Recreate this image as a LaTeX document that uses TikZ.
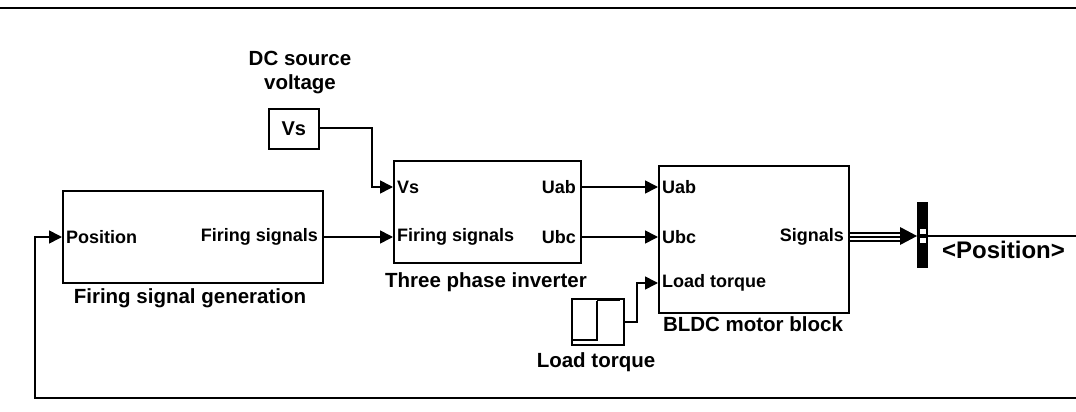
\documentclass[tikz,border=0pt]{standalone}
\usepackage{fontspec}
\setmainfont{Liberation Sans}
\usetikzlibrary{arrows.meta}
\begin{document}
\begin{tikzpicture}[x=1pt,y=-1pt,
  blk/.style={draw,line width=1.6pt},
  wire/.style={line width=1.6pt},
  arr/.style={wire,-{Triangle[length=13pt,width=13pt]}},
  lbl/.style={font=\fontsize{18}{20}\selectfont\bfseries,inner sep=1pt},
  captxt/.style={font=\fontsize{20.5}{24}\selectfont\bfseries,align=center,inner sep=0pt}]
\useasboundingbox (0,0) rectangle (1076,412);
\draw[line width=2pt] (0,8) -- (1076,8);
% blocks
\node[blk,minimum width=260,minimum height=92,anchor=north west] (fsg) at (62,190) {};
\node[blk,minimum width=50,minimum height=40,anchor=north west,font=\fontsize{20}{22}\selectfont\bfseries] (vs) at (268,108) {Vs};
\node[blk,minimum width=187,minimum height=102,anchor=north west] (inv) at (393,160) {};
\node[blk,minimum width=190,minimum height=147,anchor=north west] (bldc) at (658,165) {};
\node[blk,minimum width=52,minimum height=46,anchor=north west] (step) at (571,298) {};
\node[fill=black,minimum width=11,minimum height=66,inner sep=0,anchor=north west] (demux) at (917,202) {};
% port labels
\node[lbl,anchor=west] (p1) at (65,237) {Position};
\node[lbl,anchor=east] (p2) at (319,237) {Firing signals};
\node[lbl,anchor=west] (p3) at (396,187) {Vs};
\node[lbl,anchor=west] (p4) at (396,237) {Firing signals};
\node[lbl,anchor=east] (p5) at (577,187) {Uab};
\node[lbl,anchor=east] (p6) at (577,237) {Ubc};
\node[lbl,anchor=west] (p7) at (661,187) {Uab};
\node[lbl,anchor=west] (p8) at (661,237) {Ubc};
\node[lbl,anchor=west] (p9) at (661,283) {Load torque};
\node[lbl,anchor=east] (p10) at (845,237) {Signals};
% captions
\node[captxt] (c1) at (190,298) {Firing signal generation};
\node[captxt] (c2) at (300,73) {DC source\\voltage};
\node[captxt] (c3) at (486,282) {Three phase inverter};
\node[captxt] (c4) at (753,324) {BLDC motor block};
\node[captxt] (c5) at (596,362) {Load torque};
\node[font=\fontsize{24}{26}\selectfont\bfseries,anchor=west,inner sep=0] (pos) at (942,250) {<Position>};
% step symbol
\draw[line width=1.4pt] (573,340) -- (597,340) -- (597,301);
\draw[line width=2.6pt] (597,300) -- (620,300);
% coordinates
\coordinate (vsout) at (318,128);
\coordinate (stout) at (623,322);
\coordinate (fb) at (1076,398);
\coordinate (posend) at (1076,236);
% wires
\draw[arr] (vsout) -- (372,128) -- (372,187) -- (inv.west |- 0,187);
\draw[arr] (fsg.east |- 0,237) -- (inv.west |- 0,237);
\draw[arr] (inv.east |- 0,187) -- (bldc.west |- 0,187);
\draw[arr] (inv.east |- 0,237) -- (bldc.west |- 0,237);
\draw[arr] (stout) -- (637,322) -- (637,283) -- (bldc.west |- 0,283);
\draw[wire] (bldc.east |- 0,233) -- (905,233);
\draw[wire] (bldc.east |- 0,237) -- (905,237);
\draw[wire] (bldc.east |- 0,241) -- (905,241);
\fill (900,227) -- (917,236) -- (900,245) -- cycle;
\fill[white] (920,229) rectangle (926,234);
\fill[white] (920,238) rectangle (926,243);
\draw[wire] (demux.east |- 0,236) -- (posend);
\draw[arr] (fb) -- (35,398) -- (35,237) -- (fsg.west |- 0,237);
\end{tikzpicture}
\end{document}
